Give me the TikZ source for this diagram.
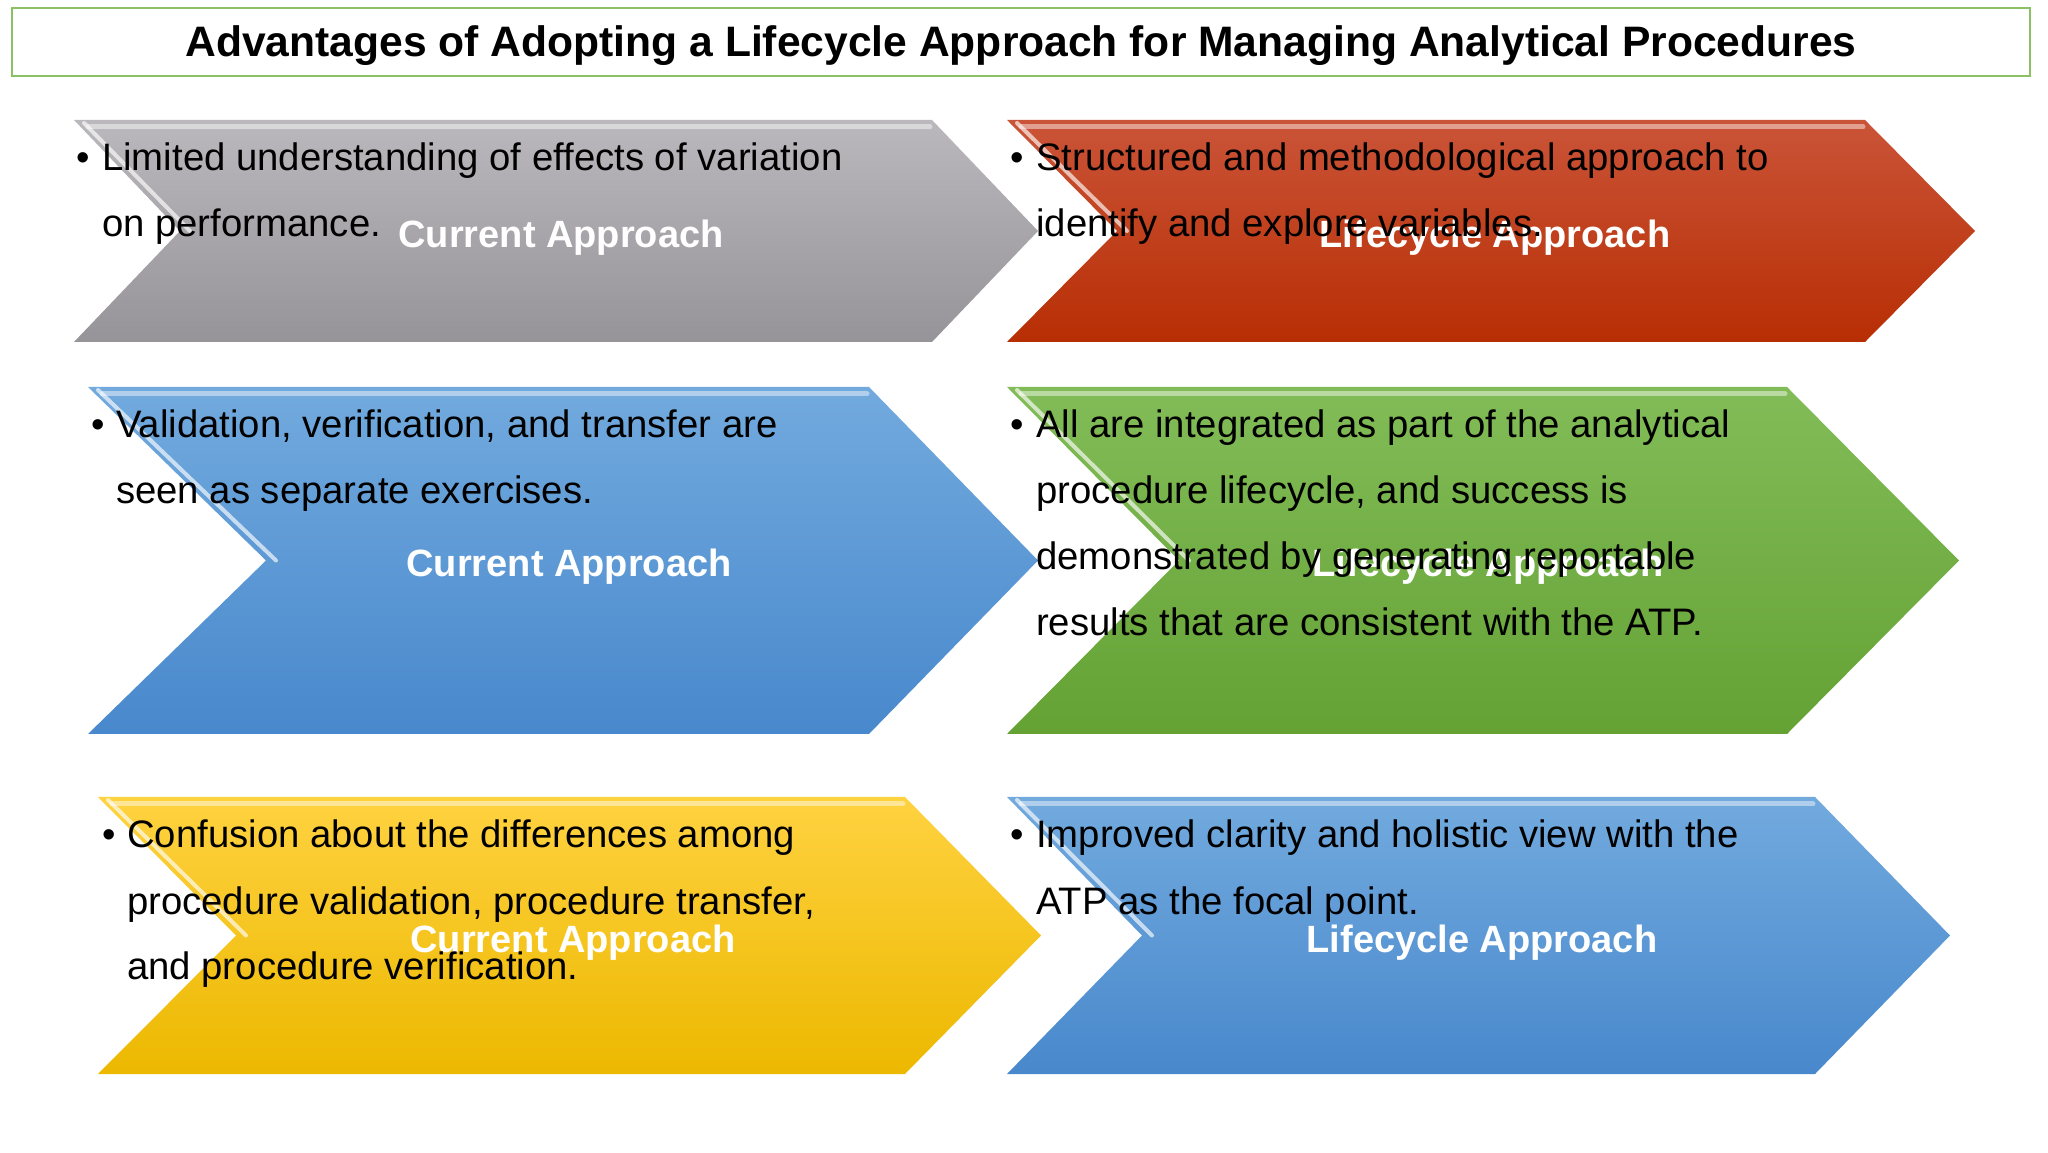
\documentclass[tikz,border=0pt]{standalone}
\usepackage{fontspec}
\setmainfont{Liberation Sans}
\definecolor{grayT}{RGB}{186,184,188}
\definecolor{grayB}{RGB}{150,148,152}
\definecolor{redT}{RGB}{202,84,56}
\definecolor{redB}{RGB}{184,46,4}
\definecolor{blueT}{RGB}{114,170,222}
\definecolor{blueB}{RGB}{72,136,204}
\definecolor{greenT}{RGB}{130,188,88}
\definecolor{greenB}{RGB}{100,162,52}
\definecolor{yelT}{RGB}{255,210,64}
\definecolor{yelB}{RGB}{236,184,0}
\definecolor{titleG}{RGB}{140,192,100}
% #1 left, #2 right, #3 tip, #4 top, #5 bottom, #6 notch depth, #7 top colour, #8 bottom colour
\newcommand\mychev[8]{%
  \shade[top color=#7,bottom color=#8]
    ({#1},{1152-#4}) -- ({#2},{1152-#4}) -- ({#3},{1152-(#4+#5)/2})
    -- ({#2},{1152-#5}) -- ({#1},{1152-#5}) -- ({#1+#6},{1152-(#4+#5)/2}) -- cycle;
  \draw[white,opacity=0.45,line width=5pt,line cap=round]
    ({#1+14},{1152-#4-7}) -- ({#2-2},{1152-#4-7});
  \draw[white,opacity=0.65,line width=4pt,line cap=round]
    ({#1+10},{1152-#4-3}) -- ({#1+#6+10},{1152-(#4+#5)/2});
}
\tikzset{
  body/.style={anchor=base west,inner sep=0pt,font=\fontsize{38.3}{66}\selectfont},
  bul/.style={anchor=base west,inner sep=0pt,font=\fontsize{38.3}{66}\selectfont},
  lab/.style={anchor=base,inner sep=0pt,text=white,font=\bfseries\fontsize{38}{46}\selectfont},
  titlebox/.style={draw=titleG,line width=2pt,minimum width=2018pt,minimum height=68pt,inner sep=0pt},
  titletext/.style={inner sep=0pt,font=\bfseries\fontsize{42.6}{50}\selectfont}
}
\begin{document}
\begin{tikzpicture}[x=1pt,y=1pt]
\useasboundingbox (0,0) rectangle (2048,1152);
\fill[white] (0,0) rectangle (2048,1152);

\node[titlebox] (tbox) at (1021,{1152-42}) {};
\node[titletext] (title) at (1021,{1152-46}) {Advantages of Adopting a Lifecycle Approach for Managing Analytical Procedures};

% chevrons
\mychev{74}{932}{1038}{120}{342}{106}{grayT}{grayB}
\mychev{1007}{1865}{1975}{120}{342}{110}{redT}{redB}
\mychev{88}{869}{1038}{387}{734}{178}{blueT}{blueB}
\mychev{1007}{1787}{1959}{387}{734}{172}{greenT}{greenB}
\mychev{98}{905}{1041}{797}{1074}{138}{yelT}{yelB}
\mychev{1007}{1815}{1950}{797}{1074}{135}{blueT}{blueB}

% labels
\node[lab] (l1) at (561,{1152-248}) {Current Approach};
\node[lab] (l2) at (1495,{1152-248}) {Lifecycle Approach};
\node[lab] (l3) at (569,{1152-577}) {Current Approach};
\node[lab] (l4) at (1488,{1152-577}) {Lifecycle Approach};
\node[lab] (l5) at (573,{1152-952}) {Current Approach};
\node[lab] (l6) at (1482,{1152-952}) {Lifecycle Approach};

% bullets and text
\node[bul] (b1) at (76,{1152-171}) {•};
\node[body] (t1) at (102,{1152-171}) {\parbox[t]{900pt}{\raggedright Limited understanding of effects of variation\\ on performance.}};
\node[bul] (b2) at (1010,{1152-171}) {•};
\node[body] (t2) at (1036,{1152-171}) {\parbox[t]{900pt}{\raggedright Structured and methodological approach to\\ identify and explore variables.}};
\node[bul] (b3) at (91,{1152-438}) {•};
\node[body] (t3) at (116,{1152-438}) {\parbox[t]{900pt}{\raggedright Validation, verification, and transfer are\\ seen as separate exercises.}};
\node[bul] (b4) at (1010,{1152-438}) {•};
\node[body] (t4) at (1036,{1152-438}) {\parbox[t]{900pt}{\raggedright All are integrated as part of the analytical\\ procedure lifecycle, and success is\\ demonstrated by generating reportable\\ results that are consistent with the ATP.}};
\node[bul] (b5) at (102,{1152-848}) {•};
\node[body] (t5) at (127,{1152-848}) {\parbox[t]{900pt}{\raggedright Confusion about the differences among\\ procedure validation, procedure transfer,\\ and procedure verification.}};
\node[bul] (b6) at (1010,{1152-848}) {•};
\node[body] (t6) at (1036,{1152-848}) {\parbox[t]{900pt}{\raggedright Improved clarity and holistic view with the\\ ATP as the focal point.}};
\end{tikzpicture}
\end{document}
